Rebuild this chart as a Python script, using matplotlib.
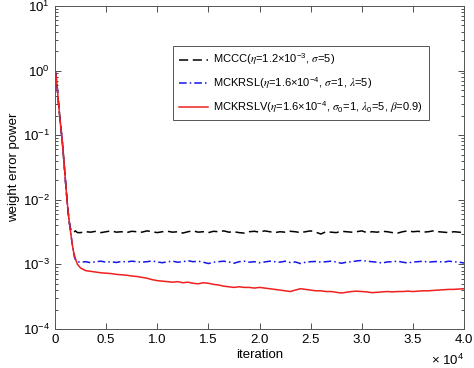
import matplotlib
matplotlib.use("Agg")
import matplotlib.pyplot as plt
import numpy as np
from matplotlib.ticker import LogLocator, NullFormatter

# early transient (shared start), iterations 0..2200
early_iters = [0, 100, 200, 300, 400, 500, 600, 700, 800, 900, 1000, 1100, 1200,
               1300, 1400, 1500, 1600, 1700, 1800, 1900, 2000, 2200]
start_vals = [1.0, 0.85, 0.6, 0.38, 0.25, 0.17, 0.12, 0.085, 0.055, 0.035, 0.022,
              0.014, 0.009, 0.0062, 0.0045]
mccc_early = start_vals + [0.0037, 0.0033, 0.0032, 0.0031, 0.0032, 0.0033, 0.0031]
mckrsl_early = start_vals + [0.0034, 0.0026, 0.0020, 0.0016, 0.0013, 0.00118, 0.0011]
mckrslv_early = start_vals + [0.0034, 0.0026, 0.0020, 0.0016, 0.0014, 0.00122, 0.0010]

# steady part, iterations 2500..40000 every 500 (values in units of 1e-3)
mccc_tail = [3.1, 3.2, 3.15, 3.25, 3.1, 3.2, 3.3, 3.15, 3.2, 3.1, 3.25, 3.2, 3.15,
             3.3, 3.2, 3.1, 3.2, 3.25, 3.15, 3.2, 3.05, 3.2, 3.3, 3.15, 3.2, 3.1,
             3.25, 3.2, 3.3, 3.15, 3.2, 3.1, 3.05, 3.2, 3.25, 3.15, 3.3, 3.2, 3.1,
             3.2, 3.15, 3.25, 3.2, 3.1, 3.2, 3.3, 3.15, 2.95, 3.2, 3.15, 3.1, 3.25,
             3.2, 3.15, 3.2, 3.3, 3.1, 3.2, 3.15, 3.25, 3.2, 3.1, 3.05, 3.2, 3.3,
             3.2, 3.25, 3.15, 3.2, 3.3, 3.2, 3.15, 3.1, 3.2, 3.15, 3.1]
mckrsl_tail = [1.08, 1.1, 1.06, 1.1, 1.12, 1.08, 1.1, 1.07, 1.11, 1.09, 1.12, 1.1,
               1.08, 1.1, 1.13, 1.09, 1.06, 1.1, 1.12, 1.08, 1.1, 1.14, 1.1, 1.12,
               1.08, 1.03, 1.08, 1.1, 1.12, 1.09, 1.04, 1.1, 1.12, 1.08, 1.1, 1.06,
               1.09, 1.12, 1.1, 1.08, 1.12, 1.07, 1.09, 1.03, 1.08, 1.1, 1.11, 1.08,
               1.1, 1.12, 1.09, 1.04, 1.08, 1.1, 1.13, 1.15, 1.12, 1.1, 1.08, 1.05,
               1.09, 1.1, 1.12, 1.08, 1.05, 1.09, 1.1, 1.12, 1.08, 1.1, 1.11, 1.08,
               1.12, 1.1, 1.08, 1.05]
mckrslv_tail = [0.88, 0.80, 0.78, 0.76, 0.74, 0.73, 0.72, 0.70, 0.69, 0.68, 0.66,
                0.65, 0.63, 0.61, 0.58, 0.56, 0.55, 0.54, 0.53, 0.54, 0.52, 0.53,
                0.51, 0.50, 0.52, 0.51, 0.49, 0.48, 0.46, 0.45, 0.44, 0.45, 0.44,
                0.44, 0.43, 0.44, 0.43, 0.42, 0.41, 0.40, 0.39, 0.38, 0.40, 0.42,
                0.41, 0.40, 0.39, 0.39, 0.38, 0.38, 0.37, 0.36, 0.37, 0.38, 0.385,
                0.38, 0.375, 0.365, 0.37, 0.375, 0.38, 0.375, 0.38, 0.38, 0.385,
                0.38, 0.385, 0.39, 0.39, 0.395, 0.40, 0.405, 0.41, 0.41, 0.415, 0.42]
tail_unit = 1e-3

labels = [r"MCCC($\eta$=1.2×10$^{\mathregular{-3}}$, $\sigma$=5)",
          r"MCKRSL($\eta$=1.6×10$^{\mathregular{-4}}$, $\sigma$=1, $\lambda$=5)",
          r"MCKRSLV($\eta$=1.6×10$^{\mathregular{-4}}$, $\sigma_{\mathregular{0}}$=1, "
          r"$\lambda_{\mathregular{0}}$=5, $\beta$=0.9)"]
xtick_vals = [0, 5000, 10000, 15000, 20000, 25000, 30000, 35000, 40000]
xtick_labels = ["0", "0.5", "1.0", "1.5", "2.0", "2.5", "3.0", "3.5", "4.0"]

plt.rcParams["font.family"] = ["Liberation Sans", "DejaVu Sans"]
plt.rcParams["mathtext.fontset"] = "stix"


def series(early, tail):
    x = np.concatenate([early_iters, np.linspace(2500, 40000, len(tail))])
    y = np.concatenate([early, np.array(tail) * tail_unit])
    return x, y


fig = plt.figure(figsize=(4.74, 3.68), dpi=100)
ax = fig.add_axes([0.116, 0.106, 0.863, 0.878])

x, y = series(mccc_early, mccc_tail)
ax.plot(x, y, color="black", lw=1.1, ls=(0, (6, 3)), label=labels[0])
x, y = series(mckrsl_early, mckrsl_tail)
ax.plot(x, y, color="#1515e6", lw=1.1, ls=(0, (5, 2, 1, 2)), label=labels[1])
x, y = series(mckrslv_early, mckrslv_tail)
ax.plot(x, y, color="#f02020", lw=1.1, label=labels[2])

ax.set_yscale("log")
ax.set_ylim(1e-4, 10)
ax.set_xlim(0, 40000)
ax.set_xticks(xtick_vals)
ax.set_xticklabels(xtick_labels)
ax.set_yticks([1e-4, 1e-3, 1e-2, 1e-1, 1, 10])
ax.set_yticklabels([r"$\mathregular{10^{%d}}$" % e for e in range(-4, 2)])
ax.yaxis.set_minor_locator(LogLocator(base=10, subs=np.arange(2, 10), numticks=20))
ax.yaxis.set_minor_formatter(NullFormatter())
ax.tick_params(which="both", direction="in", top=True, right=True, labelsize=9.5,
               width=0.6, color="#333333")
ax.tick_params(which="major", length=4)
ax.tick_params(which="minor", length=2)
for s in ax.spines.values():
    s.set_linewidth(0.7)
    s.set_color("#555555")

ax.set_xlabel("iteration", fontsize=9.5, labelpad=2)
ax.set_ylabel("weight error power", fontsize=9.5, labelpad=2)
ax.text(1.0, -0.075, r"× 10$^{\mathregular{4}}$", transform=ax.transAxes,
        ha="right", va="top", fontsize=9.5)

leg = ax.legend(loc="upper left", bbox_to_anchor=(0.276, 0.892), fontsize=8,
                handlelength=2.6, labelspacing=0.72, borderpad=0.5,
                handletextpad=0.5, fancybox=False, framealpha=1)
leg.get_frame().set_edgecolor("#555555")
leg.get_frame().set_linewidth(0.7)

fig.savefig("out.png", dpi=100)
